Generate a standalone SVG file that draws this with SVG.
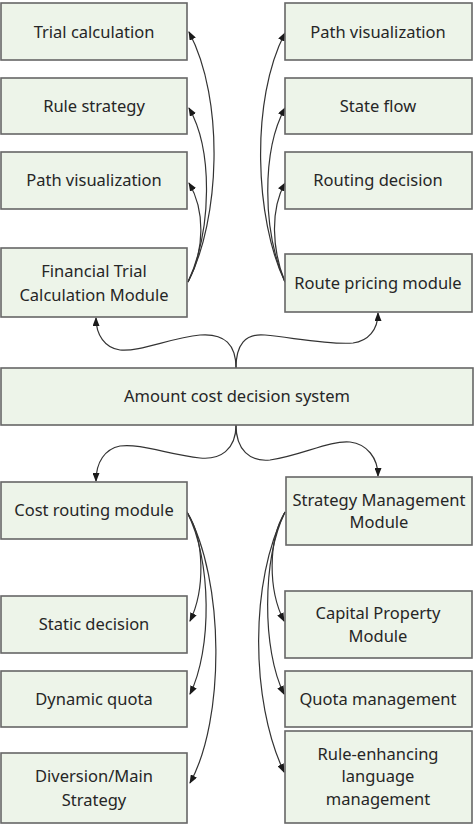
<svg xmlns="http://www.w3.org/2000/svg" width="474" height="824" viewBox="0 0 474 824">
<defs>
<marker id="ah" markerWidth="9" markerHeight="7" refX="8" refY="3.5" orient="auto" markerUnits="userSpaceOnUse"><path d="M0,0 L9,3.5 L0,7 z" fill="#1a1a1a"/></marker>
<style>
rect{fill:#edf4e9;stroke:#666;stroke-width:1.6}
text{font-family:"Noto Sans","Open Sans","DejaVu Sans",sans-serif;font-size:16.5px;fill:#262626;text-anchor:middle}
.c path{fill:none;stroke:#333;stroke-width:1.2;marker-end:url(#ah)}
</style>
</defs>
<rect width="474" height="824" style="fill:#fff;stroke:none"/>
<g class="c" id="connectors">
<path d="M236,368 C236,345 225,333 200,335 C170,338 140,352 120,350 C105,348 96,335 96,318"/>
<path d="M236,368 C236,345 245,333 265,335 C295,338 330,345 353,343 C368,341 378,330 378,313"/>
<path d="M236,425 C236,450 220,460 200,458 C170,455 140,443 120,446 C105,449 96,462 96,481"/>
<path d="M236,425 C236,450 250,462 270,460 C300,456 330,440 350,442 C367,444 378,458 378,476"/>
<path d="M188,282 C220,220 225,100 189,32"/>
<path d="M188,282 C212,230 213,150 189,108"/>
<path d="M188,282 C205,250 205,210 189,183"/>
<path d="M285,282 C255,220 250,100 285,33"/>
<path d="M285,282 C262,230 262,150 285,108"/>
<path d="M285,282 C272,250 270,210 285,183"/>
<path d="M187,512 C205,540 205,590 190,621"/>
<path d="M187,512 C212,560 212,650 190,694"/>
<path d="M187,512 C225,580 225,720 190,783"/>
<path d="M285,512 C268,540 268,590 284,621"/>
<path d="M285,512 C262,560 262,650 284,694"/>
<path d="M285,512 C250,580 250,700 284,772"/>
</g>
<g id="n-trial"><rect x="1" y="3" width="186" height="57"/><text x="94" y="38">Trial calculation</text></g>
<g id="n-rule"><rect x="1" y="78" width="186" height="56"/><text x="94" y="112">Rule strategy</text></g>
<g id="n-pathL"><rect x="1" y="152" width="186" height="57"/><text x="94" y="186">Path visualization</text></g>
<g id="n-fin"><rect x="1" y="248" width="186" height="69"/><text x="94" y="277">Financial Trial</text><text x="94" y="301">Calculation Module</text></g>
<g id="n-pathR"><rect x="285" y="3" width="187" height="57"/><text x="378" y="38">Path visualization</text></g>
<g id="n-state"><rect x="285" y="78" width="187" height="56"/><text x="378" y="112">State flow</text></g>
<g id="n-routing"><rect x="285" y="152" width="187" height="57"/><text x="378" y="186">Routing decision</text></g>
<g id="n-route"><rect x="285" y="254" width="187" height="58"/><text x="378" y="289">Route pricing module</text></g>
<g id="n-center"><rect x="1" y="368" width="472" height="57"/><text x="237" y="402">Amount cost decision system</text></g>
<g id="n-cost"><rect x="1" y="482" width="186" height="57"/><text x="94" y="516">Cost routing module</text></g>
<g id="n-strat"><rect x="286" y="477" width="186" height="68"/><text x="379" y="506">Strategy Management</text><text x="379" y="528">Module</text></g>
<g id="n-static"><rect x="1" y="596" width="186" height="57"/><text x="94" y="630">Static decision</text></g>
<g id="n-dyn"><rect x="1" y="671" width="186" height="56"/><text x="94" y="705">Dynamic quota</text></g>
<g id="n-div"><rect x="1" y="753" width="186" height="70"/><text x="94" y="782">Diversion/Main</text><text x="94" y="806">Strategy</text></g>
<g id="n-cap"><rect x="285" y="591" width="187" height="67"/><text x="378" y="619">Capital Property</text><text x="378" y="642">Module</text></g>
<g id="n-quota"><rect x="285" y="671" width="187" height="56"/><text x="378" y="705">Quota management</text></g>
<g id="n-rulee"><rect x="285" y="731" width="187" height="92"/><text x="378" y="760">Rule-enhancing</text><text x="378" y="782">language</text><text x="378" y="805">management</text></g>
</svg>
